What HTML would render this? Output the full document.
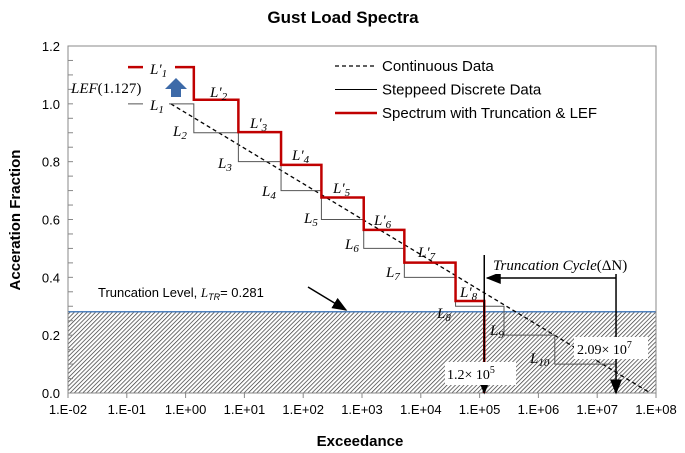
<!DOCTYPE html>
<html><head><meta charset="utf-8"><style>
body{margin:0;background:#fff}
svg{display:block;font-family:"Liberation Sans",sans-serif}
.lab{font-family:"Liberation Serif",serif;font-style:italic;font-size:15px}
</style></head><body>
<svg id="c" width="685" height="453" xmlns="http://www.w3.org/2000/svg">
<defs>
<pattern id="hatch" width="3" height="3" patternUnits="userSpaceOnUse" patternTransform="rotate(45)">
<rect width="3" height="3" fill="#fff"/><line x1="0" y1="0" x2="0" y2="3" stroke="#333" stroke-width="1.4"/>
</pattern>
<marker id="ah" markerWidth="10" markerHeight="8" refX="9" refY="4" orient="auto"><path d="M0,0 L10,4 L0,8 z" fill="#000"/></marker>
</defs>
<text x="343" y="23" text-anchor="middle" font-weight="bold" font-size="17">Gust Load Spectra</text>
<text transform="translate(20,220) rotate(-90)" text-anchor="middle" font-weight="bold" font-size="15">Acceration Fraction</text>
<text x="360" y="446" text-anchor="middle" font-weight="bold" font-size="15">Exceedance</text>
<g id="plot"></g>
</svg>
<script>
const xTicks=["1.E-02","1.E-01","1.E+00","1.E+01","1.E+02","1.E+03","1.E+04","1.E+05","1.E+06","1.E+07","1.E+08"];
const yTicks=[0,0.2,0.4,0.6,0.8,1.0,1.2];
const levels=[1.0,0.9,0.8,0.7,0.6,0.5,0.4,0.3,0.2,0.1];
const edges=[1.38,7.9,42,204,1070,5250,3.9e4,2.6e5,1.9e6,2.09e7];
const redLevels=[1.127,1.014,0.902,0.789,0.676,0.564,0.451,0.318];
const truncLevel=0.281, truncCycle=1.2e5, cycleAN=2.09e7;
const contStart=[0.56,1.0], contEnd=[8e7,0.0];
const L=68,R=656,T=46,B=393;
const X=v=>L+(Math.log10(v)+2)*(R-L)/10;
const Y=v=>B-v*(B-T)/1.2;
const g=document.getElementById('plot');
const NS="http://www.w3.org/2000/svg";
function mk(t,a,txt){const e=document.createElementNS(NS,t);for(const k in a)e.setAttribute(k,a[k]);if(txt!==undefined)e.innerHTML=txt;g.appendChild(e);return e;}
let e=mk('rect',{x:L,y:Y(truncLevel),width:R-L,height:B-Y(truncLevel),fill:'url(#hatch)'});


e=mk('line',{x1:L,x2:R,y1:Y(truncLevel),y2:Y(truncLevel),stroke:'#4f81bd','stroke-width':1.5});


e=mk('rect',{x:L,y:T,width:R-L,height:B-T,fill:'none',stroke:'#888','stroke-width':1});


for(let v=0;v<=1.2001;v+=0.05){mk('line',{x1:L,x2:L+5,y1:Y(v),y2:Y(v),stroke:'#888'});}
yTicks.forEach(v=>{e=mk('text',{x:L-8,y:Y(v)+5,'text-anchor':'end','font-size':13},v.toFixed(1));

});
xTicks.forEach((t,i)=>{const x=L+i*(R-L)/10;mk('line',{x1:x,x2:x,y1:B,y2:B+5,stroke:'#888'});
e=mk('text',{x:x,y:B+21,'text-anchor':'middle','font-size':13},t);

});
e=mk('line',{x1:X(contStart[0]),y1:Y(contStart[1]),x2:X(contEnd[0]),y2:Y(contEnd[1]),stroke:'#000','stroke-width':1.3,'stroke-dasharray':'4,3'});


let d=`M${L+60},${Y(levels[0])}`;
levels.forEach((v,i)=>{d+=` H${X(edges[i])}`;if(i<levels.length-1)d+=` V${Y(levels[i+1])}`;});
e=mk('path',{d:d,fill:'none',stroke:'#555','stroke-width':1});


d=`M${L+60},${Y(redLevels[0])}`;
redLevels.forEach((v,i)=>{const xe=i<redLevels.length-1?X(edges[i]):X(truncCycle);d+=` H${xe}`;d+=` V${i<redLevels.length-1?Y(redLevels[i+1]):B}`;});
e=mk('path',{d:d,fill:'none',stroke:'#c00000','stroke-width':2.5});


mk('rect',{x:143,y:58,width:32,height:20,fill:'#fff'});
mk('rect',{x:143,y:96,width:26,height:18,fill:'#fff'});
const lp=[[150,74,"L′<tspan font-size='11' dy='3'>1</tspan>"],[210,97,"L′<tspan font-size='11' dy='3'>2</tspan>"],[250,128,"L′<tspan font-size='11' dy='3'>3</tspan>"],[292,160,"L′<tspan font-size='11' dy='3'>4</tspan>"],[333,193,"L′<tspan font-size='11' dy='3'>5</tspan>"],[374,225,"L′<tspan font-size='11' dy='3'>6</tspan>"],[418,257,"L′<tspan font-size='11' dy='3'>7</tspan>"],[460,297,"L′<tspan font-size='11' dy='3'>8</tspan>"],
[150,110,"L<tspan font-size='11' dy='3'>1</tspan>"],[173,136,"L<tspan font-size='11' dy='3'>2</tspan>"],[218,168,"L<tspan font-size='11' dy='3'>3</tspan>"],[262,196,"L<tspan font-size='11' dy='3'>4</tspan>"],[304,223,"L<tspan font-size='11' dy='3'>5</tspan>"],[345,249,"L<tspan font-size='11' dy='3'>6</tspan>"],[386,277,"L<tspan font-size='11' dy='3'>7</tspan>"],[437,318,"L<tspan font-size='11' dy='3'>8</tspan>"],[490,335,"L<tspan font-size='11' dy='3'>9</tspan>"],[530,363,"L<tspan font-size='11' dy='3'>10</tspan>"]];
lp.forEach(p=>{e=mk('text',{x:p[0],y:p[1],class:'lab'},p[2]);

});
e=mk('text',{x:71,y:93,class:'lab'},"LEF<tspan font-style='normal'>(1.127)</tspan>");


e=mk('path',{d:"M171,97 V89 H165 L176,78 L187,89 H181 V97 Z",fill:'#3d6aa8'});


e=mk('text',{x:98,y:297,'font-size':13},"Truncation Level, <tspan font-family='Liberation Serif' font-style='italic'>L</tspan><tspan font-size='9' dy='3' font-style='italic'>TR</tspan><tspan dy='-3'>= 0.281</tspan>");


mk('line',{x1:308,y1:287,x2:346,y2:310,stroke:'#000','stroke-width':1.5,'marker-end':'url(#ah)'});
mk('line',{x1:X(truncCycle),y1:255,x2:X(truncCycle),y2:B,stroke:'#000','stroke-width':1.5,'marker-end':'url(#ah)'});
mk('line',{x1:X(cycleAN),y1:272,x2:X(cycleAN),y2:B,stroke:'#000','stroke-width':1.5,'marker-end':'url(#ah)'});
mk('line',{x1:X(cycleAN),y1:278,x2:X(truncCycle)+3,y2:278,stroke:'#000','stroke-width':1.5,'marker-end':'url(#ah)'});
mk('rect',{x:491,y:254,width:162,height:20,fill:'#fff'});
e=mk('text',{x:493,y:270,class:'lab','font-size':15},"Truncation Cycle<tspan font-style='normal'>(ΔN)</tspan>");


mk('rect',{x:574,y:337,width:74,height:22,fill:'#fff'});
e=mk('text',{x:577,y:354,'font-size':14,'font-family':'Liberation Serif'},"2.09× 10<tspan font-size='10' dy='-6'>7</tspan>");


mk('rect',{x:445,y:362,width:71,height:23,fill:'#fff'});
e=mk('text',{x:447,y:379,'font-size':14,'font-family':'Liberation Serif'},"1.2× 10<tspan font-size='10' dy='-6'>5</tspan>");


const leg=[["Continuous Data",'#000',1.3,'4,3'],["Steppeed Discrete Data",'#000',1,''],["Spectrum with Truncation & LEF",'#c00000',2.5,'']];
leg.forEach((l,i)=>{const y=66+i*23.5;mk('line',{x1:335,x2:377,y1:y,y2:y,stroke:l[1],'stroke-width':l[2],'stroke-dasharray':l[3]});
e=mk('text',{x:382,y:y+5,'font-size':15},l[0].replace('&','&amp;'));

});
</script>
</body></html>
